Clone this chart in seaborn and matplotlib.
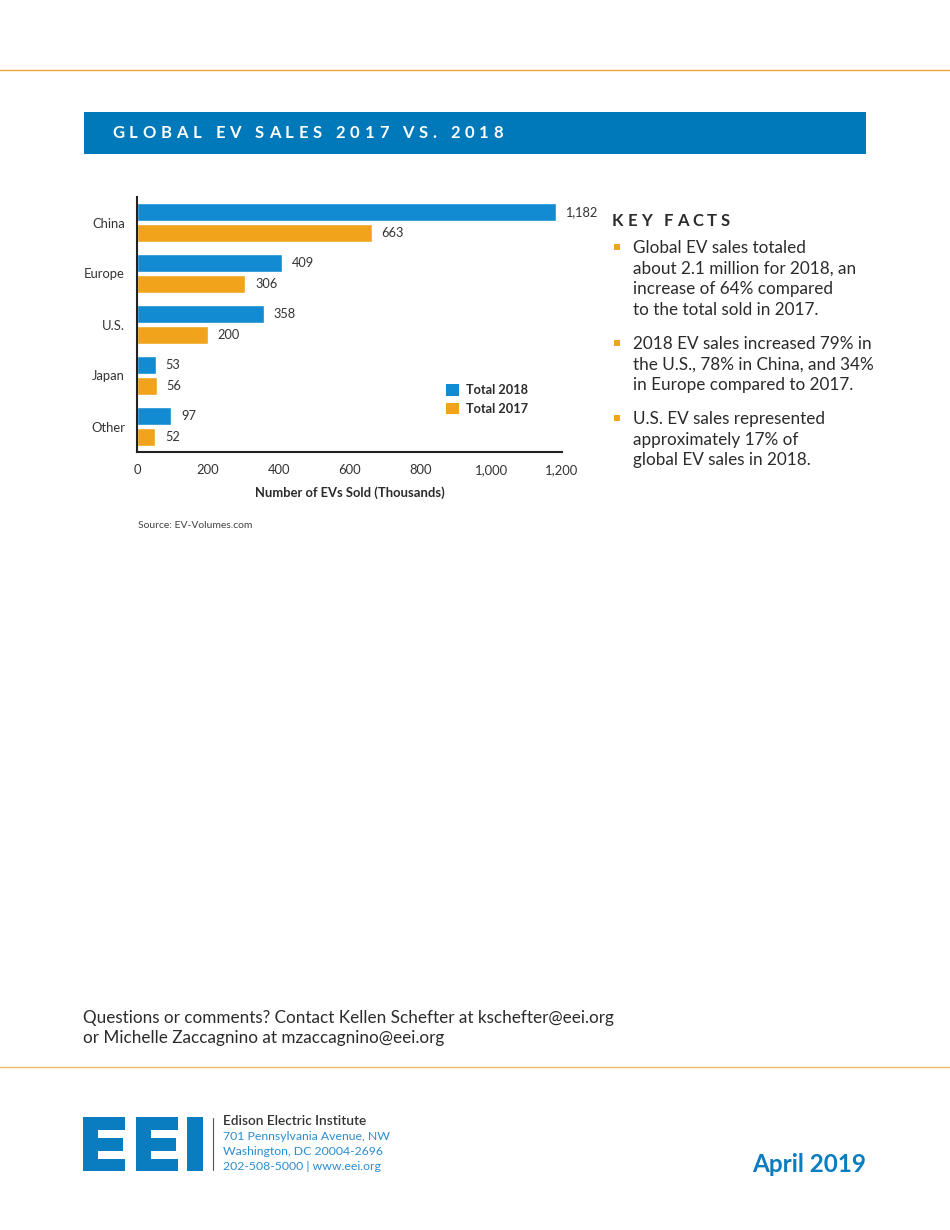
import matplotlib
matplotlib.use("Agg")
import matplotlib.pyplot as plt
from matplotlib.patches import Rectangle, Patch
import pandas as pd
import seaborn as sns

# chart data
regions = ["China", "Europe", "U.S.", "Japan", "Other"]
sales_2018 = [1182, 409, 358, 53, 97]
sales_2017 = [663, 306, 200, 56, 52]
series_names = ["Total 2018", "Total 2017"]
x_ticks = [0, 200, 400, 600, 800, 1000, 1200]

title_text = "GLOBAL EV SALES 2017 VS. 2018"
facts_title = "KEY FACTS"
facts = [
    ["Global EV sales totaled", "about 2.1 million for 2018, an",
     "increase of 64% compared", "to the total sold in 2017."],
    ["2018 EV sales increased 79% in", "the U.S., 78% in China, and 34%",
     "in Europe compared to 2017."],
    ["U.S. EV sales represented", "approximately 17% of",
     "global EV sales in 2018."],
]
contact_lines = ["Questions or comments? Contact Kellen Schefter at kschefter@eei.org",
                 "or Michelle Zaccagnino at mzaccagnino@eei.org"]
address_lines = ["701 Pennsylvania Avenue, NW", "Washington, DC 20004-2696",
                 "202-508-5000 | www.eei.org"]

BLUE = "#138bd3"
ORANGE = "#f0a31b"
BANNER = "#0079bb"
DARK = "#2b2b2b"

sns.set_theme(style="white")
plt.rcParams["font.family"] = ["Lato", "DejaVu Sans"]

W, H = 950, 1230
fig = plt.figure(figsize=(W / 100, H / 100), dpi=100)

# page overlay in pixel coordinates
page = fig.add_axes([0, 0, 1, 1])
page.set_xlim(0, W)
page.set_ylim(H, 0)
page.axis("off")


def spaced_text(x, y, s, target_width, **kw):
    """Draw letter-spaced text so that it spans target_width pixels."""
    renderer = fig.canvas.get_renderer()
    widths = []
    for ch in s:
        if ch == " ":
            widths.append(None)
            continue
        t = page.text(0, 0, ch, **kw)
        widths.append(t.get_window_extent(renderer).width)
        t.remove()
    space_w = 4.0
    natural = sum(w if w is not None else space_w for w in widths)
    track = (target_width - natural) / (len(s) - 1)
    cx = x
    for ch, w in zip(s, widths):
        if w is None:
            cx += space_w + track
            continue
        page.text(cx, y, ch, ha="left", va="center", **kw)
        cx += w + track


# top rule and bottom rule
page.plot([0, W], [70, 70], color="#e9a53a", lw=1.0)
page.plot([0, W], [1067, 1067], color="#ecb867", lw=1.0)

# banner
page.add_patch(Rectangle((84, 112), 782, 42, color=BANNER, lw=0))
spaced_text(112, 133.5, title_text, 391, color="white", fontsize=12, fontweight="bold")

# key facts
spaced_text(612, 221, facts_title, 118, color=DARK, fontsize=12, fontweight="bold")
y0 = [248, 344, 419]
for block, yb in zip(facts, y0):
    page.add_patch(Rectangle((614, yb - 4.5), 6, 6, color=ORANGE, lw=0))
    for i, line in enumerate(block):
        page.text(633, yb + i * 20.7, line, fontsize=12.3, color=DARK, va="center", ha="left")

# source
page.text(138, 525, "Source: EV-Volumes.com", fontsize=7.5, color="#444444", va="center")

# contact
for i, line in enumerate(contact_lines):
    page.text(83, 1018 + i * 20, line, fontsize=12.3, color=DARK, va="center")

# logo
logo_blue = "#0a7cc0"
top, h = 1117, 54
for x0, wd in [(83, 42), (136, 42)]:
    page.add_patch(Rectangle((x0, top), 15, h, color=logo_blue, lw=0))
    page.add_patch(Rectangle((x0, top), wd, 12.5, color=logo_blue, lw=0))
    page.add_patch(Rectangle((x0, top + 20.5), wd - 2, 13, color=logo_blue, lw=0))
    page.add_patch(Rectangle((x0, top + h - 12.5), wd, 12.5, color=logo_blue, lw=0))
page.add_patch(Rectangle((187, top), 15.5, h, color=logo_blue, lw=0))
page.plot([213, 213], [1118, 1170], color="#555555", lw=0.8)
page.text(223, 1121, "Edison Electric Institute", fontsize=9.8, color="#333333",
          fontweight="semibold", va="center")
for i, line in enumerate(address_lines):
    page.text(223, 1137 + i * 14.7, line, fontsize=8.8, color="#2a8dd0", va="center")
page.text(866, 1165, "April 2019", fontsize=17.5, color=logo_blue, fontweight="bold",
          ha="right", va="center")

# bar chart
df = pd.DataFrame({
    "region": regions * 2,
    "series": [series_names[0]] * len(regions) + [series_names[1]] * len(regions),
    "value": sales_2018 + sales_2017,
})

ax = fig.add_axes([137 / W, 1 - 452 / H, 425 / W, 255 / H])
sns.barplot(data=df, y="region", x="value", hue="series", order=regions,
            hue_order=series_names, palette=[BLUE, ORANGE], orient="h",
            width=0.786, gap=0.1, saturation=1, errorbar=None, ax=ax, legend=False)

for cont in ax.containers:
    ax.bar_label(cont, labels=[f"{int(b.get_width()):,}" for b in cont],
                 padding=7, fontsize=9.2, color="#333333")

ax.set_xlim(0, 1200)
ax.set_ylim(len(regions) - 0.5, -0.5)
ax.set_xticks(x_ticks)
ax.set_xticklabels([f"{t:,}" for t in x_ticks])
ax.tick_params(axis="x", direction="in", length=5, width=0.7, color="#666666",
               labelsize=9.4, labelcolor="#333333", pad=8.4)
ax.tick_params(axis="y", length=0, labelsize=9.4, labelcolor="#333333", pad=8.6)
ax.set_ylabel("")
ax.set_xlabel("Number of EVs Sold (Thousands)", fontsize=9.4, fontweight="bold",
              color=DARK, labelpad=8)
for side in ["top", "right"]:
    ax.spines[side].set_visible(False)
for side in ["left", "bottom"]:
    ax.spines[side].set_color("#222222")
    ax.spines[side].set_linewidth(1.5)
ax.set_facecolor("none")

handles = [Patch(facecolor=c, edgecolor="none") for c in [BLUE, ORANGE]]
ax.legend(handles, series_names, loc="upper left", bbox_to_anchor=(0.727, 0.267),
          frameon=False, handlelength=1.05, handleheight=1.05, handletextpad=0.5,
          labelspacing=0.5, borderpad=0, borderaxespad=0,
          prop={"size": 9.2, "weight": "bold"}, labelcolor=DARK)

fig.savefig("out.png", dpi=100)
